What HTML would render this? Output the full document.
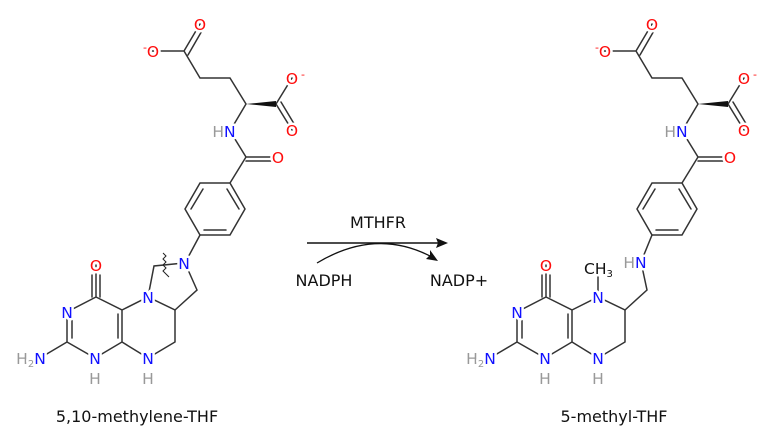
<!DOCTYPE html>
<html><head><meta charset="utf-8"><style>
html,body{margin:0;padding:0;background:#fff;}
svg{display:block;}
text{font-family:"DejaVu Sans","Liberation Sans",sans-serif;}
.b{stroke:#333;stroke-width:1.5;fill:none;stroke-linecap:round}
.a{font-size:15.5px;text-anchor:middle;stroke:#fff;stroke-width:5;paint-order:stroke;stroke-linejoin:round}
.N{fill:#1010ff}.O{fill:#ff0d0d}.H{fill:#999}.K{fill:#111}
</style></head><body>
<svg width="768" height="439" viewBox="0 0 768 439" xmlns="http://www.w3.org/2000/svg">
<defs>
<g id="glu">
 <path class="b" d="M184,51 L200,24 M188,55 L203,29 M184,51 L152,51 M184,51 L200,78 L230,78 L246,104 M276,104 L292,78 M276,104 L292,130 M281,102 L296,127 M246,104 L230,131 L246,157 L276,157 M246,161 L276,161 M246,157 L230,183 L200,183 L185,209 L200,235 L230,235 L245,209 L230,183 M203,189 L191,209 M227,189 L239,209 M204,230 L226,230"/>
 <path d="M246,104 L276,101 L276,107 Z" fill="#111"/>
 <text class="a O" x="200" y="30">O</text>
 <text class="a O" x="153" y="57">O</text><text class="O" x="143" y="51" font-size="11">-</text>
 <text class="a O" x="292" y="84">O</text><text class="O" x="301" y="78" font-size="11">-</text>
 <text class="a O" x="292" y="136">O</text>
 <text class="a O" x="278" y="163">O</text>
 <text class="a" x="224" y="137"><tspan class="H">H</tspan><tspan class="N">N</tspan></text>
</g>
<g id="pter">
 <path class="b" d="M96,297 L96,265 M92,297 L92,275 M100,297 L100,275 M96,297 L67,312 L67,342 M72,316 L72,338 M67,342 L40,358 M67,342 L95,358 L122,342 L122,310 L96,297 M118,338 L118,314 M122,310 L148,297 L175,310 L175,342 L148,358 L122,342"/>
 <text class="a O" x="96" y="271">O</text>
 <text class="a N" x="67" y="318">N</text>
 <text class="a N" x="95" y="364">N</text>
 <text class="a H" x="95" y="384">H</text>
 <text class="a N" x="148" y="303">N</text>
 <text class="a N" x="148" y="364">N</text>
 <text class="a H" x="148" y="384">H</text>
 <text class="a" x="31" y="364"><tspan class="H">H</tspan><tspan class="H" font-size="10" dy="3">2</tspan><tspan class="N" dy="-3">N</tspan></text>
</g>
</defs>
<use href="#glu"/>
<path class="b" d="M200,235 L185,263 M175,310 L197,290 L185,263 M148,297 L154,266 L184,263"/>
<use href="#pter"/>
<path d="M163,253 l3,3 l-3,3 l3,3 l-3,3 l3,3 l-3,3 l3,3 l3,3" stroke="#222" stroke-width="1" fill="none"/>
<text class="a N" x="184" y="269">N</text>
<text x="137" y="422" font-size="16" text-anchor="middle" fill="#111">5,10-methylene-THF</text>
<path d="M307,243 L440,243" stroke="#111" stroke-width="1.4"/>
<path d="M448,243 L436,238 L438,243 L436,248 Z" fill="#111"/>
<path d="M317,263 Q375,228 430,256" stroke="#111" stroke-width="1.3" fill="none"/>
<path d="M438,261 L430,250 L430,255 L426,259 Z" fill="#111"/>
<text x="378" y="228" font-size="16" text-anchor="middle" fill="#111">MTHFR</text>
<text x="324" y="286" font-size="16" text-anchor="middle" fill="#111">NADPH</text>
<text x="459" y="286" font-size="16" text-anchor="middle" fill="#111">NADP+</text>
<use href="#glu" transform="translate(452,0)"/>
<path class="b" d="M652,235 L641,262 L647,290 L625,310 M598,297 L598,277"/>
<use href="#pter" transform="translate(450,0)"/>
<text class="a" x="635" y="268"><tspan class="H">H</tspan><tspan class="N">N</tspan></text>
<text x="584" y="274" font-size="15.5" fill="#111">CH<tspan font-size="10" dy="3">3</tspan></text>
<text x="614" y="422" font-size="16" text-anchor="middle" fill="#111">5-methyl-THF</text>
</svg>
</body></html>
